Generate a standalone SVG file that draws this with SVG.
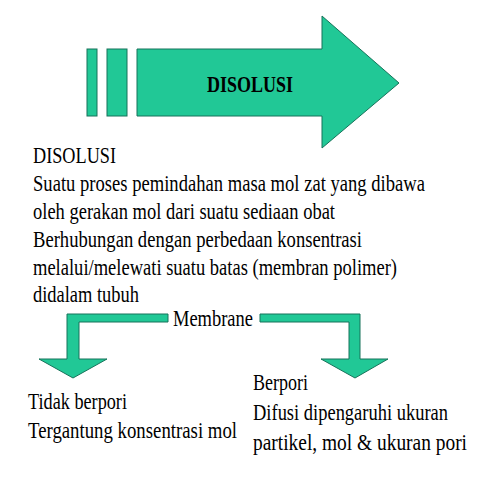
<svg xmlns="http://www.w3.org/2000/svg" width="480" height="480" viewBox="0 0 480 480">
  <style>
    .shape { fill: #21c896; stroke: #17735a; stroke-width: 1; }
    .t { font-family: "Liberation Serif", "Times New Roman", serif; font-size: 24px; fill: #000; }
    .tb { font-family: "Liberation Serif", "Times New Roman", serif; font-size: 23px; font-weight: bold; fill: #000; }
  </style>
  <rect width="480" height="480" fill="#ffffff"/>

  <g id="title-arrow">
    <rect class="shape" x="87" y="49" width="10" height="67"/>
    <rect class="shape" x="107" y="49" width="20" height="67"/>
    <polygon class="shape" points="137,49 322,49 322,16 399,83 322,148 322,116 137,116"/>
    <text class="tb" x="207" y="92" textLength="86" lengthAdjust="spacingAndGlyphs">DISOLUSI</text>
  </g>

  <g id="definition">
    <text class="t" x="33" y="163" textLength="83" lengthAdjust="spacingAndGlyphs">DISOLUSI</text>
    <text class="t" x="33" y="191" textLength="392" lengthAdjust="spacingAndGlyphs">Suatu proses pemindahan masa mol zat yang dibawa</text>
    <text class="t" x="33" y="219" textLength="302" lengthAdjust="spacingAndGlyphs">oleh gerakan mol dari suatu sediaan obat</text>
    <text class="t" x="33" y="247" textLength="329" lengthAdjust="spacingAndGlyphs">Berhubungan dengan perbedaan konsentrasi</text>
    <text class="t" x="33" y="275" textLength="364" lengthAdjust="spacingAndGlyphs">melalui/melewati suatu batas (membran polimer)</text>
    <text class="t" x="33" y="302" textLength="106" lengthAdjust="spacingAndGlyphs">didalam tubuh</text>
  </g>

  <g id="membrane">
    <text class="t" x="173" y="326" textLength="80" lengthAdjust="spacingAndGlyphs">Membrane</text>
  </g>

  <g id="connectors">
    <polygon class="shape" points="168,314 67,314 67,359 39,359 73,378 107,359 79,359 79,322 168,322"/>
    <polygon class="shape" points="260,314 360,314 360,359 388,359 355,378 321,359 349,359 349,322 260,322"/>
  </g>

  <g id="tidak-berpori">
    <text class="t" x="28" y="409" textLength="99" lengthAdjust="spacingAndGlyphs">Tidak berpori</text>
    <text class="t" x="28" y="438" textLength="209" lengthAdjust="spacingAndGlyphs">Tergantung konsentrasi mol</text>
  </g>

  <g id="berpori">
    <text class="t" x="253" y="390" textLength="55" lengthAdjust="spacingAndGlyphs">Berpori</text>
    <text class="t" x="253" y="420" textLength="195" lengthAdjust="spacingAndGlyphs">Difusi dipengaruhi ukuran</text>
    <text class="t" x="253" y="450" textLength="214" lengthAdjust="spacingAndGlyphs">partikel, mol &amp; ukuran pori</text>
  </g>
</svg>
